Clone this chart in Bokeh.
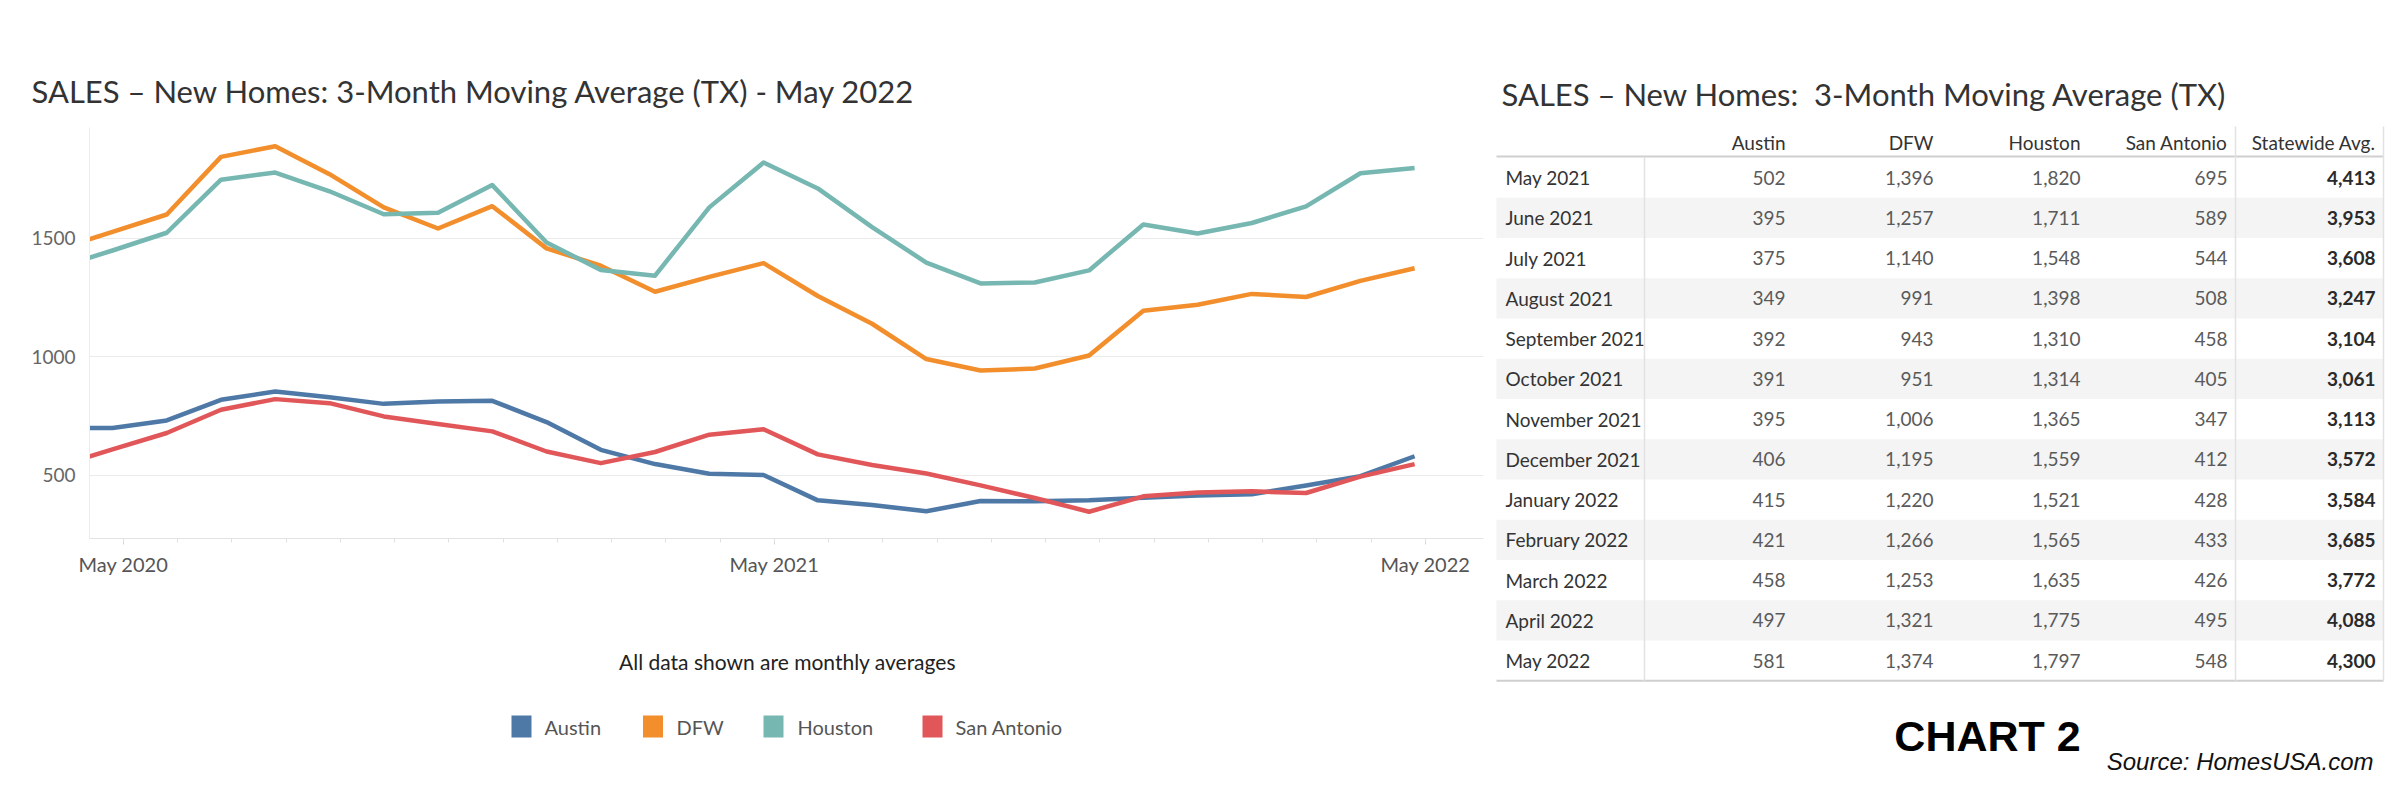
from bokeh.plotting import figure
from bokeh.layouts import row, column
from bokeh.models import Range1d, FixedTicker, Title
from bokeh.core.properties import value
from bokeh.embed import file_html
from bokeh.resources import INLINE

FONT = "Lato"

# ---------------- data ----------------
months = ["Apr 2020", "May 2020", "Jun 2020", "Jul 2020", "Aug 2020", "Sep 2020", "Oct 2020",
          "Nov 2020", "Dec 2020", "Jan 2021", "Feb 2021", "Mar 2021", "Apr 2021", "May 2021",
          "Jun 2021", "Jul 2021", "Aug 2021", "Sep 2021", "Oct 2021", "Nov 2021", "Dec 2021",
          "Jan 2022", "Feb 2022", "Mar 2022", "Apr 2022", "May 2022"]
month_index = list(range(-1, 25))  # 0 = May 2020

austin = [700, 700, 732, 819, 854, 830, 802, 812, 815, 725, 608, 548, 507,
          502, 395, 375, 349, 392, 391, 395, 406, 415, 421, 458, 497, 581]
dfw = [1455, 1528, 1601, 1844, 1889, 1771, 1631, 1542, 1636, 1458, 1385, 1275, 1338,
       1396, 1257, 1140, 991, 943, 951, 1006, 1195, 1220, 1266, 1253, 1321, 1374]
houston = [1378, 1449, 1524, 1748, 1778, 1699, 1602, 1608, 1725, 1483, 1367, 1343, 1631,
           1820, 1711, 1548, 1398, 1310, 1314, 1365, 1559, 1521, 1565, 1635, 1775, 1797]
san_antonio = [539, 610, 679, 777, 822, 805, 749, 717, 686, 601, 552, 599, 672,
               695, 589, 544, 508, 458, 405, 347, 412, 428, 433, 426, 495, 548]

series_names = ["Austin", "DFW", "Houston", "San Antonio"]
series_colors = ["#4e79a7", "#f28e2b", "#76b7b2", "#e15759"]

x_tick_months = [0, 12, 24]
x_tick_labels = ["May 2020", "May 2021", "May 2022"]
y_ticks = [500, 1000, 1500]

table_months = ["May 2021", "June 2021", "July 2021", "August 2021", "September 2021",
                "October 2021", "November 2021", "December 2021", "January 2022",
                "February 2022", "March 2022", "April 2022", "May 2022"]
table_austin = [502, 395, 375, 349, 392, 391, 395, 406, 415, 421, 458, 497, 581]
table_dfw = [1396, 1257, 1140, 991, 943, 951, 1006, 1195, 1220, 1266, 1253, 1321, 1374]
table_houston = [1820, 1711, 1548, 1398, 1310, 1314, 1365, 1559, 1521, 1565, 1635, 1775, 1797]
table_san_antonio = [695, 589, 544, 508, 458, 405, 347, 412, 428, 433, 426, 495, 548]
table_statewide = [4413, 3953, 3608, 3247, 3104, 3061, 3113, 3572, 3584, 3685, 3772, 4088, 4300]
table_headers = ["Austin", "DFW", "Houston", "San Antonio", "Statewide Avg."]

left_title = "SALES \u2013 New Homes: 3-Month Moving Average (TX) - May 2022"
right_title = "SALES \u2013 New Homes:\u00a0 3-Month Moving Average (TX)"
note_text = "All data shown are monthly averages"
chart_label = "CHART 2"
source_text = "Source: HomesUSA.com"

LEFT_W = 1488
BL, BR = 89, 5  # chart frame borders (frames in the left column are aligned)


def canvas(w, h, bl=0, br=0):
    # data x == page x inside the (aligned) frame
    f = figure(width=w, height=h, x_range=Range1d(bl, w - br), y_range=Range1d(h, 0),
               toolbar_location=None, output_backend="svg", title=None,
               x_axis_type=None, y_axis_type=None, min_border=0,
               min_border_left=bl, min_border_right=br)
    f.grid.visible = False
    f.outline_line_color = None
    return f


# ---------------- left: chart (with its title) ----------------
chart = figure(width=LEFT_W, height=598, x_range=Range1d(-0.424, 25.27),
               y_range=Range1d(234, 1968), toolbar_location=None,
               output_backend="svg", title=None,
               min_border_left=BL, min_border_right=BR,
               min_border_top=127, min_border_bottom=60)
chart.title = Title(text=left_title, align="left", offset=31 - BL, standoff=36,
                    text_font=FONT, text_font_size="31px", text_font_style="normal",
                    text_color="#333333")
chart.outline_line_color = None
chart.xgrid.visible = False
chart.ygrid.grid_line_color = "#ebebeb"
chart.ygrid.grid_line_width = 1

for vals, color in zip([austin, dfw, houston, san_antonio], series_colors):
    chart.line(month_index, vals, line_width=4.5, line_color=color, line_join="round")

xt = [m + 0.2 for m in x_tick_months]
chart.xaxis.ticker = FixedTicker(ticks=xt, minor_ticks=[m + 0.2 for m in month_index])
chart.xaxis.major_label_overrides = {t: lab for t, lab in zip(xt, x_tick_labels)}
chart.xaxis.axis_line_color = "#e3e3e3"
chart.xaxis.major_tick_line_color = "#d5d5d5"
chart.xaxis.minor_tick_line_color = "#e0e0e0"
chart.xaxis.major_tick_in = 0
chart.xaxis.major_tick_out = 6
chart.xaxis.minor_tick_in = 0
chart.xaxis.minor_tick_out = 4
chart.xaxis.major_label_standoff = 7
chart.xaxis.major_label_text_font = FONT
chart.xaxis.major_label_text_font_size = "20px"
chart.xaxis.major_label_text_color = "#555555"

chart.yaxis.ticker = FixedTicker(ticks=y_ticks)
chart.yaxis.axis_line_color = "#ececec"
chart.yaxis.major_tick_line_color = None
chart.yaxis.minor_tick_line_color = None
chart.yaxis.major_label_standoff = 8
chart.yaxis.major_label_text_font = FONT
chart.yaxis.major_label_text_font_size = "19px"
chart.yaxis.major_label_text_color = "#666666"

# ---------------- left: note + legend ----------------
bottom_left = canvas(LEFT_W, 202, BL, BR)
bottom_left.text(x=[787], y=[63], text=[note_text], text_font=value(FONT),
                 text_font_size="21px", text_color="#222222",
                 text_baseline="middle", text_align="center")
leg_sq_x = [521, 652.5, 773, 932]
leg_tx_x = [544, 676, 797, 955]
bottom_left.rect(x=leg_sq_x, y=[128] * 4, width=20, height=22,
                 fill_color=series_colors, line_color=None)
bottom_left.text(x=leg_tx_x, y=[128] * 4, text=series_names, text_font=value(FONT),
                 text_font_size="20px", text_color="#555555",
                 text_baseline="middle", text_align="left")

left = column(chart, bottom_left)

# ---------------- right: table ----------------
right = canvas(912, 800)
right.text(x=[13], y=[93], text=[right_title], text_font=value(FONT),
           text_font_size="31px", text_color="#333333",
           text_baseline="middle", text_align="left")

row_h = 40.25
first_row_top = 157
n = len(table_months)
row_centers = [first_row_top + row_h * (k + 0.5) for k in range(n)]
band_k = [k for k in range(n) if k % 2 == 1]
right.quad(left=[8] * len(band_k), right=[895] * len(band_k),
           top=[first_row_top + row_h * k for k in band_k],
           bottom=[first_row_top + row_h * (k + 1) for k in band_k],
           fill_color="#f4f4f4", line_color=None)

col_right = [297, 445, 592, 739, 887]
TS = "19px"
right.text(x=col_right, y=[142] * 5, text=table_headers, text_font=value(FONT),
           text_font_size=TS, text_color="#333333",
           text_baseline="middle", text_align="right")
right.text(x=[17] * n, y=row_centers, text=table_months, text_font=value(FONT),
           text_font_size=TS, text_color="#333333",
           text_baseline="middle", text_align="left")
for ci, col in enumerate([table_austin, table_dfw, table_houston, table_san_antonio]):
    right.text(x=[col_right[ci]] * n, y=row_centers, text=[f"{v:,}" for v in col],
               text_font=value(FONT), text_font_size=TS, text_color="#5a5a5a",
               text_baseline="middle", text_align="right")
right.text(x=[col_right[4]] * n, y=row_centers, text=[f"{v:,}" for v in table_statewide],
           text_font=value(FONT), text_font_size=TS, text_color="#2a2a2a",
           text_font_style="bold", text_baseline="middle", text_align="right")

table_bottom = first_row_top + row_h * n
right.segment(x0=[8, 8], y0=[156, table_bottom], x1=[895, 895], y1=[156, table_bottom],
              line_color="#cfcfcf", line_width=2)
right.segment(x0=[156, 747, 895], y0=[157, 126, 126], x1=[156, 747, 895],
              y1=[table_bottom, table_bottom, table_bottom],
              line_color="#e2e2e2", line_width=1.5)

right.text(x=[499], y=[735], text=[chart_label], text_font=value("Liberation Sans"),
           text_font_size="43px", text_font_style="bold", text_color="#000000",
           text_baseline="middle", text_align="center")
right.text(x=[885], y=[761], text=[source_text], text_font=value("Liberation Sans"),
           text_font_size="24px", text_font_style="italic", text_color="#111111",
           text_baseline="middle", text_align="right")

page = row(left, right)

open("out.html", "w").write(file_html(page, INLINE))
